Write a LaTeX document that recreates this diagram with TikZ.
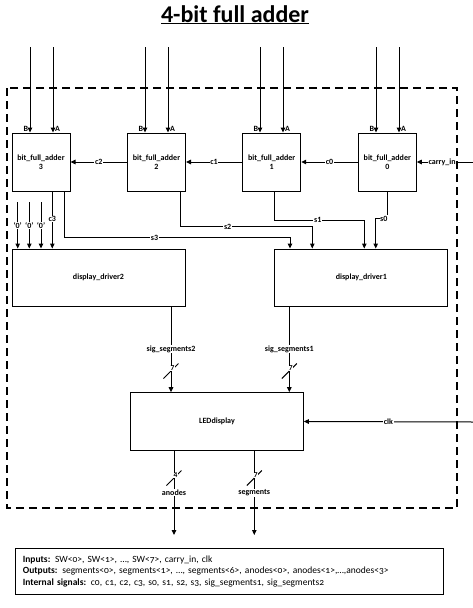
\documentclass[tikz,border=0pt]{standalone}
\usepackage{fontspec}
\setmainfont{Carlito}
\newfontfamily\infofont[Numbers=OldStyle]{Carlito}
\usetikzlibrary{arrows.meta}
\begin{document}
\begin{tikzpicture}[x=1pt,y=-1pt,
  arr/.style={-{Triangle[length=5pt,width=4.5pt]}, line width=1pt},
  wire/.style={line width=1pt},
  blk/.style={draw, line width=1pt, inner sep=0pt, align=center, font=\bfseries\fontsize{8}{9.5}\selectfont},
  lbl/.style={font=\bfseries\fontsize{8}{8}\selectfont, inner sep=0.6pt},
  lblw/.style={lbl, fill=white},
  digit/.style={font=\bfseries\fontsize{7.5}{7.5}\selectfont, inner sep=0.3pt, fill=white},
  fa/.style={blk, minimum width=58pt, minimum height=58pt},
  dd/.style={blk, minimum width=173pt, minimum height=57pt},
]
\useasboundingbox (0,0) rectangle (473,608);

% title
\node[font=\bfseries\fontsize{24}{26}\selectfont, inner sep=0pt, anchor=base] (title) at (235,22) {\underline{4-bit full adder}};

% dashed frame
\draw[line width=1.3pt, dash pattern=on 8pt off 5pt] (7,88) rectangle (457,508);

% full adders
\node[fa] (fa3) at (41,162) {bit\_full\_adder\\3};
\node[fa] (fa2) at (156.5,162) {bit\_full\_adder\\2};
\node[fa] (fa1) at (271.7,162) {bit\_full\_adder\\1};
\node[fa] (fa0) at (387.3,162) {bit\_full\_adder\\0};

% inputs A and B
\foreach \i/\xb/\xa in {3/30/53,2/145/168,1/260/283,0/376/399}{
  \coordinate (inB\i) at (\xb,47);
  \coordinate (inA\i) at (\xa,47);
  \draw[arr] (inB\i) -- (inB\i |- fa\i.north) node[lbl, anchor=south east, inner sep=0.5pt, xshift=-1pt] {B};
  \draw[arr] (inA\i) -- (inA\i |- fa\i.north) node[lbl, anchor=south west, inner sep=0.5pt, xshift=1pt] {A};
}

% carries
\coordinate (cin) at (473,162);
\draw[arr] (cin) -- node[lblw, pos=0.55]{carry\_in} (fa0.east);
\draw[arr] (fa0.west) -- node[lblw]{c0} (fa1.east);
\draw[arr] (fa1.west) -- node[lblw]{c1} (fa2.east);
\draw[arr] (fa2.west) -- node[lblw]{c2} (fa3.east);

% display drivers
\node[dd] (dd2) at (98.5,277.5) {display\_driver2};
\node[dd] (dd1) at (361.3,277.5) {display\_driver1};

% constant zeros and c3
\foreach \k/\xz in {1/17.7,2/29.3,3/41}{
  \coordinate (z\k) at (\xz,202);
  \draw[arr] (z\k) -- node[lblw, pos=0.5]{`0'} (z\k |- dd2.north);
}
\draw[arr] ([xshift=11.3pt]fa3.south) -- node[lblw, pos=0.48]{c3} ([xshift=11.3pt]fa3.south |- dd2.north);

% sums
\draw[arr] ([xshift=23.3pt]fa3.south) -- ++(0,46) -| node[lblw, pos=0.2]{s3} ([xshift=-71.3pt]dd1.north);
\draw[arr] ([xshift=23.5pt]fa2.south) -- ++(0,35) -| node[lblw, pos=0.18]{s2} ([xshift=-49pt]dd1.north);
\draw[arr] ([xshift=3pt]fa1.south) -- ++(0,28.7) -| node[lblw, pos=0.24]{s1} ([xshift=3pt]dd1.north);
\draw[arr] (fa0.south) -- ++(0,27) -| node[lblw, pos=0.15]{s0} ([xshift=14.4pt]dd1.north);

% LED display
\node[blk, minimum width=172.6pt, minimum height=57.6pt] (led) at (217,421.5) {LEDdisplay};

\draw[arr] ([xshift=72.5pt]dd2.south) -- node[lblw, pos=0.5]{sig\_segments2} ([xshift=72.5pt]dd2.south |- led.north);
\draw[arr] ([xshift=-72pt]dd1.south) -- node[lblw, pos=0.5]{sig\_segments1} ([xshift=-72pt]dd1.south |- led.north);

\coordinate (clkin) at (473,422);
\draw[arr] (clkin) -- node[lblw, pos=0.5]{clk} (led.east);

% outputs
\coordinate (aout) at (174,535);
\coordinate (sout) at (254.3,535);
\draw[arr] ([xshift=-43pt]led.south) -- node[lblw, pos=0.5]{anodes} (aout);
\draw[arr] ([xshift=37.3pt]led.south) -- node[lblw, pos=0.5]{segments} (sout);

% bus width marks
\foreach \bx/\by/\n in {171/371/7, 289.3/371/7, 174/478/4, 254.3/478/7}{
  \draw[wire] (\bx-7.5,\by+7.5) -- (\bx+7.5,\by-7.5);
  \node[digit] at (\bx+1.5,\by-2.5) {\n};
}

% info box
\node[draw, line width=1pt, anchor=north west, minimum width=427.7pt, minimum height=46pt,
      text width=413pt, inner xsep=7pt, inner ysep=0pt, align=left,
      font=\infofont\fontsize{9.5}{11.5}\selectfont] (info) at (15,548)
  {\textbf{Inputs:} SW<0>, SW<1>, \dots, SW<7>, carry\_in, clk\\
   \textbf{Outputs:} segments<0>, segments<1>, \dots, segments<6>, anodes<0>, anodes<1>,\dots,anodes<3>\\
   \textbf{Internal signals:} c0, c1, c2, c3, s0, s1, s2, s3, sig\_segments1, sig\_segments2};
\end{tikzpicture}
\end{document}
